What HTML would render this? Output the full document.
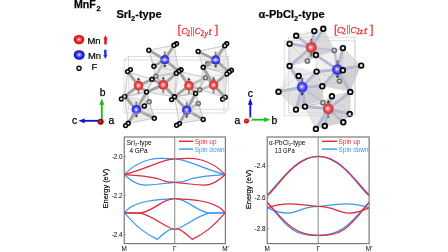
<!DOCTYPE html>
<html><head><meta charset="utf-8"><style>
html,body{margin:0;padding:0;background:#fff;}
svg{display:block;}
text{font-family:"Liberation Sans",Arial,sans-serif;}
.hb{font-weight:bold;fill:#000;stroke:#000;stroke-width:0.2px;}
.lg{font-size:9.4px;fill:#000;stroke:#000;stroke-width:0.2px;}
.lb{font-size:10.3px;fill:#000;stroke:#000;stroke-width:0.25px;}
.tk{font-size:6.4px;fill:#000;}
.ax{font-size:7.4px;fill:#000;stroke:#000;stroke-width:0.15px;}
.cl{font-family:"Liberation Serif",serif;font-style:italic;font-weight:normal;fill:#f03434;stroke:#f03434;stroke-width:0.35px;}
</style></head><body>
<svg width="448" height="252" viewBox="0 0 448 252">
<rect width="448" height="252" fill="#fff"/>
<defs>
<radialGradient id="gR" cx="0.5" cy="0.5" r="0.55" fx="0.5" fy="0.47">
<stop offset="0" stop-color="#ffffff"/><stop offset="0.18" stop-color="#ff9a9a"/><stop offset="0.5" stop-color="#f02828"/><stop offset="0.82" stop-color="#d41010"/><stop offset="1" stop-color="#8a0606"/></radialGradient>
<radialGradient id="gB" cx="0.5" cy="0.5" r="0.55" fx="0.5" fy="0.47">
<stop offset="0" stop-color="#ffffff"/><stop offset="0.18" stop-color="#a0a0ff"/><stop offset="0.5" stop-color="#3030f0"/><stop offset="0.82" stop-color="#1414d0"/><stop offset="1" stop-color="#06068a"/></radialGradient>
<radialGradient id="gD" cx="0.5" cy="0.5" r="0.55" fx="0.4" fy="0.4">
<stop offset="0" stop-color="#d04040"/><stop offset="0.6" stop-color="#a00c0c"/><stop offset="1" stop-color="#600000"/></radialGradient>
<radialGradient id="gD2" cx="0.5" cy="0.5" r="0.55" fx="0.4" fy="0.4">
<stop offset="0" stop-color="#ff6060"/><stop offset="0.6" stop-color="#e01010"/><stop offset="1" stop-color="#a00000"/></radialGradient>
<radialGradient id="gR2" cx="0.5" cy="0.5" r="0.55" fx="0.42" fy="0.5">
<stop offset="0" stop-color="#ffffff"/><stop offset="0.18" stop-color="#f2b0b0"/><stop offset="0.5" stop-color="#e05252"/><stop offset="0.85" stop-color="#d03a3a"/><stop offset="1" stop-color="#b02828"/></radialGradient>
<radialGradient id="gB2" cx="0.5" cy="0.5" r="0.55" fx="0.45" fy="0.45">
<stop offset="0" stop-color="#ffffff"/><stop offset="0.18" stop-color="#b0b0f6"/><stop offset="0.5" stop-color="#5050ec"/><stop offset="0.85" stop-color="#3434d8"/><stop offset="1" stop-color="#2020b0"/></radialGradient>
<radialGradient id="gR1" cx="0.5" cy="0.5" r="0.55" fx="0.48" fy="0.5">
<stop offset="0" stop-color="#ffffff"/><stop offset="0.22" stop-color="#f6a4a4"/><stop offset="0.55" stop-color="#ec4646"/><stop offset="0.85" stop-color="#dc2c2c"/><stop offset="1" stop-color="#b41c1c"/></radialGradient>
<radialGradient id="gB1" cx="0.5" cy="0.5" r="0.55" fx="0.48" fy="0.5">
<stop offset="0" stop-color="#ffffff"/><stop offset="0.22" stop-color="#a8a8ff"/><stop offset="0.55" stop-color="#4040f4"/><stop offset="0.85" stop-color="#2626dc"/><stop offset="1" stop-color="#1818b0"/></radialGradient>
<clipPath id="clipL"><rect x="124.25" y="137" width="101.15" height="106.6"/></clipPath>
<clipPath id="clipR"><rect x="267.2" y="137" width="101.9" height="106.6"/></clipPath>
</defs>
<rect x="128.5" y="56.5" width="100.1" height="52.7" stroke="#cfcfcf" stroke-width="0.7" fill="none"/>
<polygon points="164.8,59.7 148.8,50.2 174.0,45.3" fill="#ebebeb" fill-opacity="0.35" stroke="#cdcdcd" stroke-width="0.50" stroke-linejoin="round"/>
<polygon points="164.8,59.7 174.0,45.3 178.8,71.3" fill="#cdcdcd" fill-opacity="0.35" stroke="#cdcdcd" stroke-width="0.50" stroke-linejoin="round"/>
<polygon points="164.8,59.7 178.8,71.3 155.8,76.2" fill="#c9c9c9" fill-opacity="0.35" stroke="#cdcdcd" stroke-width="0.50" stroke-linejoin="round"/>
<polygon points="164.8,59.7 155.8,76.2 148.8,50.2" fill="#e3e3e3" fill-opacity="0.35" stroke="#cdcdcd" stroke-width="0.50" stroke-linejoin="round"/>
<polygon points="215.7,59.9 198.1,51.4 224.8,45.7" fill="#ececec" fill-opacity="0.35" stroke="#cdcdcd" stroke-width="0.50" stroke-linejoin="round"/>
<polygon points="215.7,59.9 224.8,45.7 229.2,72.0" fill="#cdcdcd" fill-opacity="0.35" stroke="#cdcdcd" stroke-width="0.50" stroke-linejoin="round"/>
<polygon points="215.7,59.9 229.2,72.0 203.2,67.3" fill="#cbcbcb" fill-opacity="0.35" stroke="#cdcdcd" stroke-width="0.50" stroke-linejoin="round"/>
<polygon points="215.7,59.9 203.2,67.3 198.1,51.4" fill="#e8e8e8" fill-opacity="0.35" stroke="#cdcdcd" stroke-width="0.50" stroke-linejoin="round"/>
<polygon points="138.5,85.6 124.7,96.5 127.6,71.6" fill="#e9e9e9" fill-opacity="0.35" stroke="#cdcdcd" stroke-width="0.50" stroke-linejoin="round"/>
<polygon points="138.5,85.6 127.6,71.6 152.0,79.3" fill="#e6e6e6" fill-opacity="0.35" stroke="#cdcdcd" stroke-width="0.50" stroke-linejoin="round"/>
<polygon points="138.5,85.6 152.0,79.3 146.6,92.0" fill="#cbcbcb" fill-opacity="0.35" stroke="#cdcdcd" stroke-width="0.50" stroke-linejoin="round"/>
<polygon points="138.5,85.6 146.6,92.0 138.5,94.6" fill="#c6c6c6" fill-opacity="0.35" stroke="#cdcdcd" stroke-width="0.50" stroke-linejoin="round"/>
<polygon points="138.5,85.6 138.5,94.6 124.7,96.5" fill="#d6d6d6" fill-opacity="0.35" stroke="#cdcdcd" stroke-width="0.50" stroke-linejoin="round"/>
<polygon points="163.3,84.9 146.6,92.0 152.0,79.3" fill="#e7e7e7" fill-opacity="0.35" stroke="#cdcdcd" stroke-width="0.50" stroke-linejoin="round"/>
<polygon points="163.3,84.9 152.0,79.3 155.8,76.2" fill="#ededed" fill-opacity="0.35" stroke="#cdcdcd" stroke-width="0.50" stroke-linejoin="round"/>
<polygon points="163.3,84.9 155.8,76.2 176.3,73.3" fill="#e3e3e3" fill-opacity="0.35" stroke="#cdcdcd" stroke-width="0.50" stroke-linejoin="round"/>
<polygon points="163.3,84.9 176.3,73.3 174.5,96.8" fill="#cbcbcb" fill-opacity="0.35" stroke="#cdcdcd" stroke-width="0.50" stroke-linejoin="round"/>
<polygon points="163.3,84.9 174.5,96.8 146.6,92.0" fill="#d0d0d0" fill-opacity="0.35" stroke="#cdcdcd" stroke-width="0.50" stroke-linejoin="round"/>
<polygon points="188.9,85.6 174.5,96.8 178.8,71.3" fill="#e9e9e9" fill-opacity="0.35" stroke="#cdcdcd" stroke-width="0.50" stroke-linejoin="round"/>
<polygon points="188.9,85.6 178.8,71.3 205.5,77.7" fill="#e3e3e3" fill-opacity="0.35" stroke="#cdcdcd" stroke-width="0.50" stroke-linejoin="round"/>
<polygon points="188.9,85.6 205.5,77.7 199.8,89.8" fill="#cdcdcd" fill-opacity="0.35" stroke="#cdcdcd" stroke-width="0.50" stroke-linejoin="round"/>
<polygon points="188.9,85.6 199.8,89.8 195.6,93.5" fill="#c6c6c6" fill-opacity="0.35" stroke="#cdcdcd" stroke-width="0.50" stroke-linejoin="round"/>
<polygon points="188.9,85.6 195.6,93.5 188.9,94.6" fill="#c7c7c7" fill-opacity="0.35" stroke="#cdcdcd" stroke-width="0.50" stroke-linejoin="round"/>
<polygon points="188.9,85.6 188.9,94.6 174.5,96.8" fill="#d6d6d6" fill-opacity="0.35" stroke="#cdcdcd" stroke-width="0.50" stroke-linejoin="round"/>
<polygon points="213.6,85.0 199.8,89.8 203.2,67.3" fill="#ededed" fill-opacity="0.35" stroke="#cdcdcd" stroke-width="0.50" stroke-linejoin="round"/>
<polygon points="213.6,85.0 203.2,67.3 226.8,73.9" fill="#e6e6e6" fill-opacity="0.35" stroke="#cdcdcd" stroke-width="0.50" stroke-linejoin="round"/>
<polygon points="213.6,85.0 226.8,73.9 225.2,97.2" fill="#cbcbcb" fill-opacity="0.35" stroke="#cdcdcd" stroke-width="0.50" stroke-linejoin="round"/>
<polygon points="213.6,85.0 225.2,97.2 213.6,94.0" fill="#c6c6c6" fill-opacity="0.35" stroke="#cdcdcd" stroke-width="0.50" stroke-linejoin="round"/>
<polygon points="213.6,85.0 213.6,94.0 199.8,89.8" fill="#dadada" fill-opacity="0.35" stroke="#cdcdcd" stroke-width="0.50" stroke-linejoin="round"/>
<polygon points="136.3,109.6 124.7,96.5 146.6,92.0" fill="#e8e8e8" fill-opacity="0.35" stroke="#cdcdcd" stroke-width="0.50" stroke-linejoin="round"/>
<polygon points="136.3,109.6 146.6,92.0 154.3,118.3" fill="#d0d0d0" fill-opacity="0.35" stroke="#cdcdcd" stroke-width="0.50" stroke-linejoin="round"/>
<polygon points="136.3,109.6 154.3,118.3 128.2,123.3" fill="#c7c7c7" fill-opacity="0.35" stroke="#cdcdcd" stroke-width="0.50" stroke-linejoin="round"/>
<polygon points="136.3,109.6 128.2,123.3 124.7,96.5" fill="#e7e7e7" fill-opacity="0.35" stroke="#cdcdcd" stroke-width="0.50" stroke-linejoin="round"/>
<polygon points="186.7,110.1 174.5,96.8 195.6,93.5" fill="#e9e9e9" fill-opacity="0.35" stroke="#cdcdcd" stroke-width="0.50" stroke-linejoin="round"/>
<polygon points="186.7,110.1 195.6,93.5 203.2,119.4" fill="#d0d0d0" fill-opacity="0.35" stroke="#cdcdcd" stroke-width="0.50" stroke-linejoin="round"/>
<polygon points="186.7,110.1 203.2,119.4 179.4,123.6" fill="#c7c7c7" fill-opacity="0.35" stroke="#cdcdcd" stroke-width="0.50" stroke-linejoin="round"/>
<polygon points="186.7,110.1 179.4,123.6 174.5,96.8" fill="#e7e7e7" fill-opacity="0.35" stroke="#cdcdcd" stroke-width="0.50" stroke-linejoin="round"/>
<g stroke="#bdbdbd" stroke-width="0.6">
<line x1="148.8" y1="50.2" x2="174.0" y2="45.3"/>
<line x1="148.8" y1="50.2" x2="153.9" y2="66.3"/>
<line x1="148.8" y1="50.2" x2="178.8" y2="71.3"/>
<line x1="148.8" y1="50.2" x2="155.8" y2="76.2"/>
<line x1="174.0" y1="45.3" x2="153.9" y2="66.3"/>
<line x1="174.0" y1="45.3" x2="178.8" y2="71.3"/>
<line x1="174.0" y1="45.3" x2="155.8" y2="76.2"/>
<line x1="153.9" y1="66.3" x2="178.8" y2="71.3"/>
<line x1="153.9" y1="66.3" x2="155.8" y2="76.2"/>
<line x1="178.8" y1="71.3" x2="155.8" y2="76.2"/>
<line x1="198.1" y1="51.4" x2="224.8" y2="45.7"/>
<line x1="198.1" y1="51.4" x2="203.2" y2="67.3"/>
<line x1="198.1" y1="51.4" x2="207.6" y2="63.8"/>
<line x1="198.1" y1="51.4" x2="229.2" y2="72.0"/>
<line x1="224.8" y1="45.7" x2="203.2" y2="67.3"/>
<line x1="224.8" y1="45.7" x2="207.6" y2="63.8"/>
<line x1="224.8" y1="45.7" x2="229.2" y2="72.0"/>
<line x1="203.2" y1="67.3" x2="207.6" y2="63.8"/>
<line x1="203.2" y1="67.3" x2="229.2" y2="72.0"/>
<line x1="207.6" y1="63.8" x2="229.2" y2="72.0"/>
<line x1="127.6" y1="71.6" x2="152.0" y2="79.3"/>
<line x1="127.6" y1="71.6" x2="146.6" y2="92.0"/>
<line x1="127.6" y1="71.6" x2="124.7" y2="96.5"/>
<line x1="152.0" y1="79.3" x2="146.6" y2="92.0"/>
<line x1="152.0" y1="79.3" x2="124.7" y2="96.5"/>
<line x1="146.6" y1="92.0" x2="124.7" y2="96.5"/>
<line x1="152.0" y1="79.3" x2="155.8" y2="76.2"/>
<line x1="152.0" y1="79.3" x2="176.3" y2="73.3"/>
<line x1="152.0" y1="79.3" x2="174.5" y2="96.8"/>
<line x1="152.0" y1="79.3" x2="146.6" y2="92.0"/>
<line x1="155.8" y1="76.2" x2="176.3" y2="73.3"/>
<line x1="155.8" y1="76.2" x2="174.5" y2="96.8"/>
<line x1="155.8" y1="76.2" x2="146.6" y2="92.0"/>
<line x1="176.3" y1="73.3" x2="174.5" y2="96.8"/>
<line x1="176.3" y1="73.3" x2="146.6" y2="92.0"/>
<line x1="174.5" y1="96.8" x2="146.6" y2="92.0"/>
<line x1="178.8" y1="71.3" x2="174.5" y2="96.8"/>
<line x1="178.8" y1="71.3" x2="195.6" y2="93.5"/>
<line x1="178.8" y1="71.3" x2="205.5" y2="77.7"/>
<line x1="178.8" y1="71.3" x2="199.8" y2="89.8"/>
<line x1="174.5" y1="96.8" x2="195.6" y2="93.5"/>
<line x1="174.5" y1="96.8" x2="205.5" y2="77.7"/>
<line x1="174.5" y1="96.8" x2="199.8" y2="89.8"/>
<line x1="195.6" y1="93.5" x2="205.5" y2="77.7"/>
<line x1="195.6" y1="93.5" x2="199.8" y2="89.8"/>
<line x1="205.5" y1="77.7" x2="199.8" y2="89.8"/>
<line x1="205.5" y1="77.7" x2="226.8" y2="73.9"/>
<line x1="205.5" y1="77.7" x2="225.2" y2="97.2"/>
<line x1="205.5" y1="77.7" x2="199.8" y2="89.8"/>
<line x1="205.5" y1="77.7" x2="203.2" y2="67.3"/>
<line x1="226.8" y1="73.9" x2="225.2" y2="97.2"/>
<line x1="226.8" y1="73.9" x2="199.8" y2="89.8"/>
<line x1="226.8" y1="73.9" x2="203.2" y2="67.3"/>
<line x1="225.2" y1="97.2" x2="199.8" y2="89.8"/>
<line x1="225.2" y1="97.2" x2="203.2" y2="67.3"/>
<line x1="199.8" y1="89.8" x2="203.2" y2="67.3"/>
<line x1="124.7" y1="96.5" x2="146.6" y2="92.0"/>
<line x1="124.7" y1="96.5" x2="144.4" y2="105.9"/>
<line x1="124.7" y1="96.5" x2="149.2" y2="101.8"/>
<line x1="124.7" y1="96.5" x2="154.3" y2="118.3"/>
<line x1="124.7" y1="96.5" x2="128.2" y2="123.3"/>
<line x1="146.6" y1="92.0" x2="144.4" y2="105.9"/>
<line x1="146.6" y1="92.0" x2="149.2" y2="101.8"/>
<line x1="146.6" y1="92.0" x2="154.3" y2="118.3"/>
<line x1="146.6" y1="92.0" x2="128.2" y2="123.3"/>
<line x1="144.4" y1="105.9" x2="149.2" y2="101.8"/>
<line x1="144.4" y1="105.9" x2="154.3" y2="118.3"/>
<line x1="144.4" y1="105.9" x2="128.2" y2="123.3"/>
<line x1="149.2" y1="101.8" x2="154.3" y2="118.3"/>
<line x1="149.2" y1="101.8" x2="128.2" y2="123.3"/>
<line x1="154.3" y1="118.3" x2="128.2" y2="123.3"/>
<line x1="174.5" y1="96.8" x2="195.6" y2="93.5"/>
<line x1="174.5" y1="96.8" x2="198.4" y2="103.4"/>
<line x1="174.5" y1="96.8" x2="203.2" y2="119.4"/>
<line x1="174.5" y1="96.8" x2="179.4" y2="123.6"/>
<line x1="195.6" y1="93.5" x2="198.4" y2="103.4"/>
<line x1="195.6" y1="93.5" x2="203.2" y2="119.4"/>
<line x1="195.6" y1="93.5" x2="179.4" y2="123.6"/>
<line x1="198.4" y1="103.4" x2="203.2" y2="119.4"/>
<line x1="198.4" y1="103.4" x2="179.4" y2="123.6"/>
<line x1="203.2" y1="119.4" x2="179.4" y2="123.6"/>
</g>
<line x1="164.80" y1="59.70" x2="155.80" y2="76.20" stroke="#bcbcbc" stroke-width="2.30"/>
<line x1="215.70" y1="59.90" x2="207.60" y2="63.80" stroke="#bcbcbc" stroke-width="2.30"/>
<line x1="163.30" y1="84.90" x2="155.80" y2="76.20" stroke="#bcbcbc" stroke-width="2.30"/>
<line x1="188.90" y1="85.60" x2="205.50" y2="77.70" stroke="#bcbcbc" stroke-width="2.30"/>
<line x1="188.90" y1="85.60" x2="199.80" y2="89.80" stroke="#bcbcbc" stroke-width="2.30"/>
<line x1="213.60" y1="85.00" x2="205.50" y2="77.70" stroke="#bcbcbc" stroke-width="2.30"/>
<line x1="213.60" y1="85.00" x2="199.80" y2="89.80" stroke="#bcbcbc" stroke-width="2.30"/>
<line x1="136.30" y1="109.60" x2="149.20" y2="101.80" stroke="#bcbcbc" stroke-width="2.30"/>
<line x1="186.70" y1="110.10" x2="198.40" y2="103.40" stroke="#bcbcbc" stroke-width="2.30"/>
<circle cx="207.60" cy="63.80" r="1.95" fill="#d4d4d4" stroke="#6e6e6e" stroke-width="1.55"/>
<circle cx="155.80" cy="76.20" r="1.95" fill="#d4d4d4" stroke="#6e6e6e" stroke-width="1.55"/>
<circle cx="205.50" cy="77.70" r="1.95" fill="#d4d4d4" stroke="#6e6e6e" stroke-width="1.55"/>
<circle cx="199.80" cy="89.80" r="1.95" fill="#d4d4d4" stroke="#6e6e6e" stroke-width="1.55"/>
<circle cx="149.20" cy="101.80" r="1.95" fill="#d4d4d4" stroke="#6e6e6e" stroke-width="1.55"/>
<circle cx="198.40" cy="103.40" r="1.95" fill="#d4d4d4" stroke="#6e6e6e" stroke-width="1.55"/>
<line x1="164.80" y1="59.70" x2="148.80" y2="50.20" stroke="#9c9c9c" stroke-width="2.70"/><line x1="164.80" y1="59.70" x2="148.80" y2="50.20" stroke="#a8a8a8" stroke-width="1.08"/>
<line x1="164.80" y1="59.70" x2="174.00" y2="45.30" stroke="#9c9c9c" stroke-width="2.70"/><line x1="164.80" y1="59.70" x2="174.00" y2="45.30" stroke="#a8a8a8" stroke-width="1.08"/>
<line x1="164.80" y1="59.70" x2="153.90" y2="66.30" stroke="#9c9c9c" stroke-width="2.70"/><line x1="164.80" y1="59.70" x2="153.90" y2="66.30" stroke="#a8a8a8" stroke-width="1.08"/>
<line x1="164.80" y1="59.70" x2="178.80" y2="71.30" stroke="#9c9c9c" stroke-width="2.70"/><line x1="164.80" y1="59.70" x2="178.80" y2="71.30" stroke="#a8a8a8" stroke-width="1.08"/>
<line x1="215.70" y1="59.90" x2="198.10" y2="51.40" stroke="#9c9c9c" stroke-width="2.70"/><line x1="215.70" y1="59.90" x2="198.10" y2="51.40" stroke="#a8a8a8" stroke-width="1.08"/>
<line x1="215.70" y1="59.90" x2="224.80" y2="45.70" stroke="#9c9c9c" stroke-width="2.70"/><line x1="215.70" y1="59.90" x2="224.80" y2="45.70" stroke="#a8a8a8" stroke-width="1.08"/>
<line x1="215.70" y1="59.90" x2="203.20" y2="67.30" stroke="#9c9c9c" stroke-width="2.70"/><line x1="215.70" y1="59.90" x2="203.20" y2="67.30" stroke="#a8a8a8" stroke-width="1.08"/>
<line x1="215.70" y1="59.90" x2="229.20" y2="72.00" stroke="#9c9c9c" stroke-width="2.70"/><line x1="215.70" y1="59.90" x2="229.20" y2="72.00" stroke="#a8a8a8" stroke-width="1.08"/>
<line x1="138.50" y1="85.60" x2="127.60" y2="71.60" stroke="#9c9c9c" stroke-width="2.70"/><line x1="138.50" y1="85.60" x2="127.60" y2="71.60" stroke="#a8a8a8" stroke-width="1.08"/>
<line x1="138.50" y1="85.60" x2="152.00" y2="79.30" stroke="#9c9c9c" stroke-width="2.70"/><line x1="138.50" y1="85.60" x2="152.00" y2="79.30" stroke="#a8a8a8" stroke-width="1.08"/>
<line x1="138.50" y1="85.60" x2="146.60" y2="92.00" stroke="#9c9c9c" stroke-width="2.70"/><line x1="138.50" y1="85.60" x2="146.60" y2="92.00" stroke="#a8a8a8" stroke-width="1.08"/>
<line x1="138.50" y1="85.60" x2="124.70" y2="96.50" stroke="#9c9c9c" stroke-width="2.70"/><line x1="138.50" y1="85.60" x2="124.70" y2="96.50" stroke="#a8a8a8" stroke-width="1.08"/>
<line x1="163.30" y1="84.90" x2="152.00" y2="79.30" stroke="#9c9c9c" stroke-width="2.70"/><line x1="163.30" y1="84.90" x2="152.00" y2="79.30" stroke="#a8a8a8" stroke-width="1.08"/>
<line x1="163.30" y1="84.90" x2="176.30" y2="73.30" stroke="#9c9c9c" stroke-width="2.70"/><line x1="163.30" y1="84.90" x2="176.30" y2="73.30" stroke="#a8a8a8" stroke-width="1.08"/>
<line x1="163.30" y1="84.90" x2="174.50" y2="96.80" stroke="#9c9c9c" stroke-width="2.70"/><line x1="163.30" y1="84.90" x2="174.50" y2="96.80" stroke="#a8a8a8" stroke-width="1.08"/>
<line x1="163.30" y1="84.90" x2="146.60" y2="92.00" stroke="#9c9c9c" stroke-width="2.70"/><line x1="163.30" y1="84.90" x2="146.60" y2="92.00" stroke="#a8a8a8" stroke-width="1.08"/>
<line x1="188.90" y1="85.60" x2="178.80" y2="71.30" stroke="#9c9c9c" stroke-width="2.70"/><line x1="188.90" y1="85.60" x2="178.80" y2="71.30" stroke="#a8a8a8" stroke-width="1.08"/>
<line x1="188.90" y1="85.60" x2="174.50" y2="96.80" stroke="#9c9c9c" stroke-width="2.70"/><line x1="188.90" y1="85.60" x2="174.50" y2="96.80" stroke="#a8a8a8" stroke-width="1.08"/>
<line x1="188.90" y1="85.60" x2="195.60" y2="93.50" stroke="#9c9c9c" stroke-width="2.70"/><line x1="188.90" y1="85.60" x2="195.60" y2="93.50" stroke="#a8a8a8" stroke-width="1.08"/>
<line x1="213.60" y1="85.00" x2="226.80" y2="73.90" stroke="#9c9c9c" stroke-width="2.70"/><line x1="213.60" y1="85.00" x2="226.80" y2="73.90" stroke="#a8a8a8" stroke-width="1.08"/>
<line x1="213.60" y1="85.00" x2="225.20" y2="97.20" stroke="#9c9c9c" stroke-width="2.70"/><line x1="213.60" y1="85.00" x2="225.20" y2="97.20" stroke="#a8a8a8" stroke-width="1.08"/>
<line x1="213.60" y1="85.00" x2="203.20" y2="67.30" stroke="#9c9c9c" stroke-width="2.70"/><line x1="213.60" y1="85.00" x2="203.20" y2="67.30" stroke="#a8a8a8" stroke-width="1.08"/>
<line x1="136.30" y1="109.60" x2="124.70" y2="96.50" stroke="#9c9c9c" stroke-width="2.70"/><line x1="136.30" y1="109.60" x2="124.70" y2="96.50" stroke="#a8a8a8" stroke-width="1.08"/>
<line x1="136.30" y1="109.60" x2="146.60" y2="92.00" stroke="#9c9c9c" stroke-width="2.70"/><line x1="136.30" y1="109.60" x2="146.60" y2="92.00" stroke="#a8a8a8" stroke-width="1.08"/>
<line x1="136.30" y1="109.60" x2="144.40" y2="105.90" stroke="#9c9c9c" stroke-width="2.70"/><line x1="136.30" y1="109.60" x2="144.40" y2="105.90" stroke="#a8a8a8" stroke-width="1.08"/>
<line x1="136.30" y1="109.60" x2="154.30" y2="118.30" stroke="#9c9c9c" stroke-width="2.70"/><line x1="136.30" y1="109.60" x2="154.30" y2="118.30" stroke="#a8a8a8" stroke-width="1.08"/>
<line x1="136.30" y1="109.60" x2="128.20" y2="123.30" stroke="#9c9c9c" stroke-width="2.70"/><line x1="136.30" y1="109.60" x2="128.20" y2="123.30" stroke="#a8a8a8" stroke-width="1.08"/>
<line x1="186.70" y1="110.10" x2="174.50" y2="96.80" stroke="#9c9c9c" stroke-width="2.70"/><line x1="186.70" y1="110.10" x2="174.50" y2="96.80" stroke="#a8a8a8" stroke-width="1.08"/>
<line x1="186.70" y1="110.10" x2="195.60" y2="93.50" stroke="#9c9c9c" stroke-width="2.70"/><line x1="186.70" y1="110.10" x2="195.60" y2="93.50" stroke="#a8a8a8" stroke-width="1.08"/>
<line x1="186.70" y1="110.10" x2="203.20" y2="119.40" stroke="#9c9c9c" stroke-width="2.70"/><line x1="186.70" y1="110.10" x2="203.20" y2="119.40" stroke="#a8a8a8" stroke-width="1.08"/>
<line x1="186.70" y1="110.10" x2="179.40" y2="123.60" stroke="#9c9c9c" stroke-width="2.70"/><line x1="186.70" y1="110.10" x2="179.40" y2="123.60" stroke="#a8a8a8" stroke-width="1.08"/>
<line x1="164.80" y1="51.40" x2="164.80" y2="65.40" stroke="#858585" stroke-width="1.80"/>
<path d="M164.80,68.00 L166.80,65.00 L162.80,65.00 Z" fill="#2a2a2a" stroke="#fff" stroke-width="0.35"/>
<circle cx="164.80" cy="59.70" r="4.60" fill="url(#gB1)"/>
<line x1="215.70" y1="51.60" x2="215.70" y2="65.60" stroke="#858585" stroke-width="1.80"/>
<path d="M215.70,68.20 L217.70,65.20 L213.70,65.20 Z" fill="#2a2a2a" stroke="#fff" stroke-width="0.35"/>
<circle cx="215.70" cy="59.90" r="4.60" fill="url(#gB1)"/>
<line x1="138.50" y1="93.90" x2="138.50" y2="79.90" stroke="#858585" stroke-width="1.80"/>
<path d="M138.50,77.30 L140.50,80.30 L136.50,80.30 Z" fill="#2a2a2a" stroke="#fff" stroke-width="0.35"/>
<circle cx="138.50" cy="85.60" r="4.75" fill="url(#gR1)"/>
<line x1="163.30" y1="93.20" x2="163.30" y2="79.20" stroke="#858585" stroke-width="1.80"/>
<path d="M163.30,76.60 L165.30,79.60 L161.30,79.60 Z" fill="#2a2a2a" stroke="#fff" stroke-width="0.35"/>
<circle cx="163.30" cy="84.90" r="4.90" fill="url(#gR1)"/>
<line x1="188.90" y1="93.90" x2="188.90" y2="79.90" stroke="#858585" stroke-width="1.80"/>
<path d="M188.90,77.30 L190.90,80.30 L186.90,80.30 Z" fill="#2a2a2a" stroke="#fff" stroke-width="0.35"/>
<circle cx="188.90" cy="85.60" r="4.75" fill="url(#gR1)"/>
<line x1="213.60" y1="93.30" x2="213.60" y2="79.30" stroke="#858585" stroke-width="1.80"/>
<path d="M213.60,76.70 L215.60,79.70 L211.60,79.70 Z" fill="#2a2a2a" stroke="#fff" stroke-width="0.35"/>
<circle cx="213.60" cy="85.00" r="4.75" fill="url(#gR1)"/>
<line x1="136.30" y1="101.30" x2="136.30" y2="115.30" stroke="#858585" stroke-width="1.80"/>
<path d="M136.30,117.90 L138.30,114.90 L134.30,114.90 Z" fill="#2a2a2a" stroke="#fff" stroke-width="0.35"/>
<circle cx="136.30" cy="109.60" r="4.70" fill="url(#gB1)"/>
<line x1="186.70" y1="101.80" x2="186.70" y2="115.80" stroke="#858585" stroke-width="1.80"/>
<path d="M186.70,118.40 L188.70,115.40 L184.70,115.40 Z" fill="#2a2a2a" stroke="#fff" stroke-width="0.35"/>
<circle cx="186.70" cy="110.10" r="4.70" fill="url(#gB1)"/>
<circle cx="148.80" cy="50.20" r="1.95" fill="#e2e2e2" stroke="#050505" stroke-width="1.55"/>
<circle cx="176.50" cy="43.80" r="1.95" fill="#e2e2e2" stroke="#050505" stroke-width="1.55"/>
<circle cx="174.00" cy="45.30" r="1.95" fill="#e2e2e2" stroke="#050505" stroke-width="1.55"/>
<circle cx="198.10" cy="51.40" r="1.95" fill="#e2e2e2" stroke="#050505" stroke-width="1.55"/>
<circle cx="226.70" cy="43.80" r="1.95" fill="#e2e2e2" stroke="#050505" stroke-width="1.55"/>
<circle cx="224.80" cy="45.70" r="1.95" fill="#e2e2e2" stroke="#050505" stroke-width="1.55"/>
<circle cx="153.90" cy="66.30" r="1.95" fill="#e2e2e2" stroke="#050505" stroke-width="1.55"/>
<circle cx="130.40" cy="69.60" r="1.95" fill="#e2e2e2" stroke="#050505" stroke-width="1.55"/>
<circle cx="127.60" cy="71.60" r="1.95" fill="#e2e2e2" stroke="#050505" stroke-width="1.55"/>
<circle cx="181.00" cy="69.80" r="1.95" fill="#e2e2e2" stroke="#050505" stroke-width="1.55"/>
<circle cx="178.80" cy="71.30" r="1.95" fill="#e2e2e2" stroke="#050505" stroke-width="1.55"/>
<circle cx="176.30" cy="73.30" r="1.95" fill="#e2e2e2" stroke="#050505" stroke-width="1.55"/>
<circle cx="203.20" cy="67.30" r="1.95" fill="#e2e2e2" stroke="#050505" stroke-width="1.55"/>
<circle cx="231.40" cy="70.30" r="1.95" fill="#e2e2e2" stroke="#050505" stroke-width="1.55"/>
<circle cx="229.20" cy="72.00" r="1.95" fill="#e2e2e2" stroke="#050505" stroke-width="1.55"/>
<circle cx="226.80" cy="73.90" r="1.95" fill="#e2e2e2" stroke="#050505" stroke-width="1.55"/>
<circle cx="152.00" cy="79.30" r="1.95" fill="#e2e2e2" stroke="#050505" stroke-width="1.55"/>
<circle cx="146.60" cy="92.00" r="1.95" fill="#e2e2e2" stroke="#050505" stroke-width="1.55"/>
<circle cx="195.60" cy="93.50" r="1.95" fill="#e2e2e2" stroke="#050505" stroke-width="1.55"/>
<circle cx="124.70" cy="96.50" r="1.95" fill="#e2e2e2" stroke="#050505" stroke-width="1.55"/>
<circle cx="121.40" cy="98.90" r="1.95" fill="#e2e2e2" stroke="#050505" stroke-width="1.55"/>
<circle cx="144.40" cy="105.90" r="1.95" fill="#e2e2e2" stroke="#050505" stroke-width="1.55"/>
<circle cx="174.50" cy="96.80" r="1.95" fill="#e2e2e2" stroke="#050505" stroke-width="1.55"/>
<circle cx="171.60" cy="99.60" r="1.95" fill="#e2e2e2" stroke="#050505" stroke-width="1.55"/>
<circle cx="225.20" cy="97.20" r="1.95" fill="#e2e2e2" stroke="#050505" stroke-width="1.55"/>
<circle cx="222.60" cy="99.30" r="1.95" fill="#e2e2e2" stroke="#050505" stroke-width="1.55"/>
<circle cx="154.30" cy="118.30" r="1.95" fill="#e2e2e2" stroke="#050505" stroke-width="1.55"/>
<circle cx="128.20" cy="123.30" r="1.95" fill="#e2e2e2" stroke="#050505" stroke-width="1.55"/>
<circle cx="125.60" cy="125.60" r="1.95" fill="#e2e2e2" stroke="#050505" stroke-width="1.55"/>
<circle cx="203.20" cy="119.40" r="1.95" fill="#e2e2e2" stroke="#050505" stroke-width="1.55"/>
<circle cx="179.40" cy="123.60" r="1.95" fill="#e2e2e2" stroke="#050505" stroke-width="1.55"/>
<circle cx="176.60" cy="125.30" r="1.95" fill="#e2e2e2" stroke="#050505" stroke-width="1.55"/>
<rect x="124" y="60" width="100" height="53" stroke="#cfcfcf" stroke-width="0.7" fill="none"/>
<line x1="124" y1="60" x2="128.5" y2="56.5" stroke="#cfcfcf" stroke-width="0.7" fill="none"/>
<line x1="224" y1="60" x2="228.6" y2="56.5" stroke="#cfcfcf" stroke-width="0.7" fill="none"/>
<line x1="124" y1="113" x2="128.5" y2="109.2" stroke="#cfcfcf" stroke-width="0.7" fill="none"/>
<line x1="224" y1="113" x2="228.6" y2="109.2" stroke="#cfcfcf" stroke-width="0.7" fill="none"/>
<rect x="288.5" y="37.2" width="66.5" height="75.8" stroke="#cfcfcf" stroke-width="0.7" fill="none"/>
<polygon points="311.3,47.4 289.6,43.7 296.2,35.7" fill="#e3e3e3" fill-opacity="0.55" stroke="#f2f2f2" stroke-width="0.50" stroke-linejoin="round"/>
<polygon points="311.3,47.4 296.2,35.7 323.3,28.8" fill="#dfdfdf" fill-opacity="0.55" stroke="#f2f2f2" stroke-width="0.50" stroke-linejoin="round"/>
<polygon points="311.3,47.4 323.3,28.8 334.3,50.4" fill="#bdbdbd" fill-opacity="0.55" stroke="#f2f2f2" stroke-width="0.50" stroke-linejoin="round"/>
<polygon points="311.3,47.4 334.3,50.4 307.4,61.0" fill="#aaaaaa" fill-opacity="0.55" stroke="#f2f2f2" stroke-width="0.50" stroke-linejoin="round"/>
<polygon points="311.3,47.4 307.4,61.0 289.6,66.0" fill="#c4c4c4" fill-opacity="0.55" stroke="#f2f2f2" stroke-width="0.50" stroke-linejoin="round"/>
<polygon points="311.3,47.4 289.6,66.0 289.6,43.7" fill="#d5d5d5" fill-opacity="0.55" stroke="#f2f2f2" stroke-width="0.50" stroke-linejoin="round"/>
<polygon points="337.5,69.6 315.9,55.0 342.9,48.1" fill="#e4e4e4" fill-opacity="0.55" stroke="#f2f2f2" stroke-width="0.50" stroke-linejoin="round"/>
<polygon points="337.5,69.6 342.9,48.1 361.2,65.6" fill="#c6c6c6" fill-opacity="0.55" stroke="#f2f2f2" stroke-width="0.50" stroke-linejoin="round"/>
<polygon points="337.5,69.6 361.2,65.6 350.3,91.9" fill="#ababab" fill-opacity="0.55" stroke="#f2f2f2" stroke-width="0.50" stroke-linejoin="round"/>
<polygon points="337.5,69.6 350.3,91.9 322.3,86.2" fill="#b4b4b4" fill-opacity="0.55" stroke="#f2f2f2" stroke-width="0.50" stroke-linejoin="round"/>
<polygon points="337.5,69.6 322.3,86.2 316.6,71.6" fill="#d1d1d1" fill-opacity="0.55" stroke="#f2f2f2" stroke-width="0.50" stroke-linejoin="round"/>
<polygon points="337.5,69.6 316.6,71.6 315.9,55.0" fill="#e2e2e2" fill-opacity="0.55" stroke="#f2f2f2" stroke-width="0.50" stroke-linejoin="round"/>
<polygon points="302.2,87.1 278.5,91.7 289.6,66.0" fill="#e4e4e4" fill-opacity="0.55" stroke="#f2f2f2" stroke-width="0.50" stroke-linejoin="round"/>
<polygon points="302.2,87.1 289.6,66.0 316.6,71.6" fill="#dcdcdc" fill-opacity="0.55" stroke="#f2f2f2" stroke-width="0.50" stroke-linejoin="round"/>
<polygon points="302.2,87.1 316.6,71.6 322.3,86.2" fill="#bdbdbd" fill-opacity="0.55" stroke="#f2f2f2" stroke-width="0.50" stroke-linejoin="round"/>
<polygon points="302.2,87.1 322.3,86.2 323.0,102.7" fill="#acacac" fill-opacity="0.55" stroke="#f2f2f2" stroke-width="0.50" stroke-linejoin="round"/>
<polygon points="302.2,87.1 323.0,102.7 296.0,109.6" fill="#acacac" fill-opacity="0.55" stroke="#f2f2f2" stroke-width="0.50" stroke-linejoin="round"/>
<polygon points="302.2,87.1 296.0,109.6 278.5,91.7" fill="#c9c9c9" fill-opacity="0.55" stroke="#f2f2f2" stroke-width="0.50" stroke-linejoin="round"/>
<polygon points="328.3,108.7 305.0,106.6 331.9,96.3" fill="#e5e5e5" fill-opacity="0.55" stroke="#f2f2f2" stroke-width="0.50" stroke-linejoin="round"/>
<polygon points="328.3,108.7 331.9,96.3 350.3,91.9" fill="#c9c9c9" fill-opacity="0.55" stroke="#f2f2f2" stroke-width="0.50" stroke-linejoin="round"/>
<polygon points="328.3,108.7 350.3,91.9 349.7,114.0" fill="#b8b8b8" fill-opacity="0.55" stroke="#f2f2f2" stroke-width="0.50" stroke-linejoin="round"/>
<polygon points="328.3,108.7 349.7,114.0 343.3,122.2" fill="#ababab" fill-opacity="0.55" stroke="#f2f2f2" stroke-width="0.50" stroke-linejoin="round"/>
<polygon points="328.3,108.7 343.3,122.2 315.9,128.9" fill="#b1b1b1" fill-opacity="0.55" stroke="#f2f2f2" stroke-width="0.50" stroke-linejoin="round"/>
<polygon points="328.3,108.7 315.9,128.9 305.0,106.6" fill="#d1d1d1" fill-opacity="0.55" stroke="#f2f2f2" stroke-width="0.50" stroke-linejoin="round"/>
<g stroke="#c2c2c2" stroke-width="0.6">
<line x1="296.2" y1="35.7" x2="289.6" y2="43.7"/>
<line x1="296.2" y1="35.7" x2="314.3" y2="31.1"/>
<line x1="289.6" y1="43.7" x2="289.6" y2="66.0"/>
<line x1="289.6" y1="43.7" x2="307.4" y2="61.0"/>
<line x1="314.3" y1="31.1" x2="323.3" y2="28.8"/>
<line x1="314.3" y1="31.1" x2="315.9" y2="55.0"/>
<line x1="323.3" y1="28.8" x2="334.3" y2="50.4"/>
<line x1="315.9" y1="55.0" x2="334.3" y2="50.4"/>
<line x1="315.9" y1="55.0" x2="307.4" y2="61.0"/>
<line x1="289.6" y1="66.0" x2="307.4" y2="61.0"/>
<line x1="334.3" y1="50.4" x2="342.9" y2="48.1"/>
<line x1="334.3" y1="50.4" x2="315.9" y2="55.0"/>
<line x1="334.3" y1="50.4" x2="342.9" y2="70.2"/>
<line x1="342.9" y1="48.1" x2="361.2" y2="65.6"/>
<line x1="342.9" y1="48.1" x2="342.9" y2="70.2"/>
<line x1="361.2" y1="65.6" x2="342.9" y2="70.2"/>
<line x1="316.6" y1="71.6" x2="315.9" y2="55.0"/>
<line x1="316.6" y1="71.6" x2="322.3" y2="86.2"/>
<line x1="316.6" y1="71.6" x2="339.5" y2="81.1"/>
<line x1="322.3" y1="86.2" x2="339.5" y2="81.1"/>
<line x1="350.3" y1="91.9" x2="339.5" y2="81.1"/>
<line x1="350.3" y1="91.9" x2="342.9" y2="70.2"/>
<line x1="339.5" y1="81.1" x2="342.9" y2="70.2"/>
<line x1="298.6" y1="75.9" x2="316.6" y2="71.6"/>
<line x1="298.6" y1="75.9" x2="278.5" y2="91.7"/>
<line x1="298.6" y1="75.9" x2="322.3" y2="86.2"/>
<line x1="298.6" y1="75.9" x2="289.6" y2="66.0"/>
<line x1="316.6" y1="71.6" x2="322.3" y2="86.2"/>
<line x1="278.5" y1="91.7" x2="296.0" y2="109.6"/>
<line x1="322.3" y1="86.2" x2="323.0" y2="102.7"/>
<line x1="296.0" y1="109.6" x2="305.0" y2="106.6"/>
<line x1="305.0" y1="106.6" x2="323.0" y2="102.7"/>
<line x1="331.9" y1="96.3" x2="349.7" y2="114.0"/>
<line x1="331.9" y1="96.3" x2="323.0" y2="102.7"/>
<line x1="331.9" y1="96.3" x2="350.3" y2="91.9"/>
<line x1="349.7" y1="114.0" x2="343.3" y2="122.2"/>
<line x1="349.7" y1="114.0" x2="350.3" y2="91.9"/>
<line x1="343.3" y1="122.2" x2="324.8" y2="126.0"/>
<line x1="324.8" y1="126.0" x2="315.9" y2="128.9"/>
<line x1="324.8" y1="126.0" x2="323.0" y2="102.7"/>
<line x1="315.9" y1="128.9" x2="305.0" y2="106.6"/>
<line x1="323.0" y1="102.7" x2="305.0" y2="106.6"/>
</g>
<line x1="311.30" y1="47.40" x2="334.30" y2="50.40" stroke="#c0c2d8" stroke-width="2.30"/>
<line x1="311.30" y1="47.40" x2="307.40" y2="61.00" stroke="#c0c2d8" stroke-width="2.30"/>
<line x1="337.50" y1="69.60" x2="334.30" y2="50.40" stroke="#c0c2d8" stroke-width="2.30"/>
<line x1="337.50" y1="69.60" x2="339.50" y2="81.10" stroke="#c0c2d8" stroke-width="2.30"/>
<line x1="302.20" y1="87.10" x2="323.00" y2="102.70" stroke="#c0c2d8" stroke-width="2.30"/>
<line x1="328.30" y1="108.70" x2="323.00" y2="102.70" stroke="#c0c2d8" stroke-width="2.30"/>
<circle cx="307.40" cy="61.00" r="2.10" fill="#d4d4d4" stroke="#6e6e6e" stroke-width="1.50"/>
<circle cx="334.30" cy="50.40" r="2.10" fill="#d4d4d4" stroke="#6e6e6e" stroke-width="1.50"/>
<circle cx="339.50" cy="81.10" r="2.10" fill="#d4d4d4" stroke="#6e6e6e" stroke-width="1.50"/>
<circle cx="323.00" cy="102.70" r="2.10" fill="#d4d4d4" stroke="#6e6e6e" stroke-width="1.50"/>
<line x1="311.30" y1="47.40" x2="296.20" y2="35.70" stroke="#aeb1d0" stroke-width="2.70"/><line x1="311.30" y1="47.40" x2="296.20" y2="35.70" stroke="#babdda" stroke-width="1.08"/>
<line x1="311.30" y1="47.40" x2="289.60" y2="43.70" stroke="#aeb1d0" stroke-width="2.70"/><line x1="311.30" y1="47.40" x2="289.60" y2="43.70" stroke="#babdda" stroke-width="1.08"/>
<line x1="311.30" y1="47.40" x2="314.30" y2="31.10" stroke="#aeb1d0" stroke-width="2.70"/><line x1="311.30" y1="47.40" x2="314.30" y2="31.10" stroke="#babdda" stroke-width="1.08"/>
<line x1="311.30" y1="47.40" x2="323.30" y2="28.80" stroke="#aeb1d0" stroke-width="2.70"/><line x1="311.30" y1="47.40" x2="323.30" y2="28.80" stroke="#babdda" stroke-width="1.08"/>
<line x1="311.30" y1="47.40" x2="315.90" y2="55.00" stroke="#aeb1d0" stroke-width="2.70"/><line x1="311.30" y1="47.40" x2="315.90" y2="55.00" stroke="#babdda" stroke-width="1.08"/>
<line x1="311.30" y1="47.40" x2="289.60" y2="66.00" stroke="#aeb1d0" stroke-width="2.70"/><line x1="311.30" y1="47.40" x2="289.60" y2="66.00" stroke="#babdda" stroke-width="1.08"/>
<line x1="337.50" y1="69.60" x2="342.90" y2="48.10" stroke="#aeb1d0" stroke-width="2.70"/><line x1="337.50" y1="69.60" x2="342.90" y2="48.10" stroke="#babdda" stroke-width="1.08"/>
<line x1="337.50" y1="69.60" x2="361.20" y2="65.60" stroke="#aeb1d0" stroke-width="2.70"/><line x1="337.50" y1="69.60" x2="361.20" y2="65.60" stroke="#babdda" stroke-width="1.08"/>
<line x1="337.50" y1="69.60" x2="316.60" y2="71.60" stroke="#aeb1d0" stroke-width="2.70"/><line x1="337.50" y1="69.60" x2="316.60" y2="71.60" stroke="#babdda" stroke-width="1.08"/>
<line x1="337.50" y1="69.60" x2="315.90" y2="55.00" stroke="#aeb1d0" stroke-width="2.70"/><line x1="337.50" y1="69.60" x2="315.90" y2="55.00" stroke="#babdda" stroke-width="1.08"/>
<line x1="337.50" y1="69.60" x2="322.30" y2="86.20" stroke="#aeb1d0" stroke-width="2.70"/><line x1="337.50" y1="69.60" x2="322.30" y2="86.20" stroke="#babdda" stroke-width="1.08"/>
<line x1="337.50" y1="69.60" x2="350.30" y2="91.90" stroke="#aeb1d0" stroke-width="2.70"/><line x1="337.50" y1="69.60" x2="350.30" y2="91.90" stroke="#babdda" stroke-width="1.08"/>
<line x1="302.20" y1="87.10" x2="298.60" y2="75.90" stroke="#aeb1d0" stroke-width="2.70"/><line x1="302.20" y1="87.10" x2="298.60" y2="75.90" stroke="#babdda" stroke-width="1.08"/>
<line x1="302.20" y1="87.10" x2="316.60" y2="71.60" stroke="#aeb1d0" stroke-width="2.70"/><line x1="302.20" y1="87.10" x2="316.60" y2="71.60" stroke="#babdda" stroke-width="1.08"/>
<line x1="302.20" y1="87.10" x2="278.50" y2="91.70" stroke="#aeb1d0" stroke-width="2.70"/><line x1="302.20" y1="87.10" x2="278.50" y2="91.70" stroke="#babdda" stroke-width="1.08"/>
<line x1="302.20" y1="87.10" x2="322.30" y2="86.20" stroke="#aeb1d0" stroke-width="2.70"/><line x1="302.20" y1="87.10" x2="322.30" y2="86.20" stroke="#babdda" stroke-width="1.08"/>
<line x1="302.20" y1="87.10" x2="296.00" y2="109.60" stroke="#aeb1d0" stroke-width="2.70"/><line x1="302.20" y1="87.10" x2="296.00" y2="109.60" stroke="#babdda" stroke-width="1.08"/>
<line x1="302.20" y1="87.10" x2="305.00" y2="106.60" stroke="#aeb1d0" stroke-width="2.70"/><line x1="302.20" y1="87.10" x2="305.00" y2="106.60" stroke="#babdda" stroke-width="1.08"/>
<line x1="302.20" y1="87.10" x2="289.60" y2="66.00" stroke="#aeb1d0" stroke-width="2.70"/><line x1="302.20" y1="87.10" x2="289.60" y2="66.00" stroke="#babdda" stroke-width="1.08"/>
<line x1="328.30" y1="108.70" x2="331.90" y2="96.30" stroke="#aeb1d0" stroke-width="2.70"/><line x1="328.30" y1="108.70" x2="331.90" y2="96.30" stroke="#babdda" stroke-width="1.08"/>
<line x1="328.30" y1="108.70" x2="349.70" y2="114.00" stroke="#aeb1d0" stroke-width="2.70"/><line x1="328.30" y1="108.70" x2="349.70" y2="114.00" stroke="#babdda" stroke-width="1.08"/>
<line x1="328.30" y1="108.70" x2="343.30" y2="122.20" stroke="#aeb1d0" stroke-width="2.70"/><line x1="328.30" y1="108.70" x2="343.30" y2="122.20" stroke="#babdda" stroke-width="1.08"/>
<line x1="328.30" y1="108.70" x2="324.80" y2="126.00" stroke="#aeb1d0" stroke-width="2.70"/><line x1="328.30" y1="108.70" x2="324.80" y2="126.00" stroke="#babdda" stroke-width="1.08"/>
<line x1="328.30" y1="108.70" x2="315.90" y2="128.90" stroke="#aeb1d0" stroke-width="2.70"/><line x1="328.30" y1="108.70" x2="315.90" y2="128.90" stroke="#babdda" stroke-width="1.08"/>
<line x1="328.30" y1="108.70" x2="350.30" y2="91.90" stroke="#aeb1d0" stroke-width="2.70"/><line x1="328.30" y1="108.70" x2="350.30" y2="91.90" stroke="#babdda" stroke-width="1.08"/>
<line x1="328.30" y1="108.70" x2="305.00" y2="106.60" stroke="#aeb1d0" stroke-width="2.70"/><line x1="328.30" y1="108.70" x2="305.00" y2="106.60" stroke="#babdda" stroke-width="1.08"/>
<line x1="311.30" y1="56.60" x2="311.30" y2="40.80" stroke="#6a6a6a" stroke-width="2.00"/>
<path d="M311.30,38.20 L313.60,41.60 L309.00,41.60 Z" fill="#2a2a2a" stroke="#fff" stroke-width="0.35"/>
<circle cx="311.30" cy="47.40" r="5.40" fill="url(#gR2)"/>
<line x1="337.50" y1="60.40" x2="337.50" y2="76.20" stroke="#6a6a6a" stroke-width="2.00"/>
<path d="M337.50,78.80 L339.80,75.40 L335.20,75.40 Z" fill="#2a2a2a" stroke="#fff" stroke-width="0.35"/>
<circle cx="337.50" cy="69.60" r="5.40" fill="url(#gB2)"/>
<line x1="302.20" y1="77.90" x2="302.20" y2="93.70" stroke="#6a6a6a" stroke-width="2.00"/>
<path d="M302.20,96.30 L304.50,92.90 L299.90,92.90 Z" fill="#2a2a2a" stroke="#fff" stroke-width="0.35"/>
<circle cx="302.20" cy="87.10" r="5.40" fill="url(#gB2)"/>
<line x1="328.30" y1="117.90" x2="328.30" y2="102.10" stroke="#6a6a6a" stroke-width="2.00"/>
<path d="M328.30,99.50 L330.60,102.90 L326.00,102.90 Z" fill="#2a2a2a" stroke="#fff" stroke-width="0.35"/>
<circle cx="328.30" cy="108.70" r="5.40" fill="url(#gR2)"/>
<circle cx="296.20" cy="35.70" r="2.35" fill="#e2e2e2" stroke="#050505" stroke-width="1.70"/>
<circle cx="289.60" cy="43.70" r="2.35" fill="#e2e2e2" stroke="#050505" stroke-width="1.70"/>
<circle cx="314.30" cy="31.10" r="2.35" fill="#e2e2e2" stroke="#050505" stroke-width="1.70"/>
<circle cx="323.30" cy="28.80" r="2.35" fill="#e2e2e2" stroke="#050505" stroke-width="1.70"/>
<circle cx="315.90" cy="55.00" r="2.35" fill="#e2e2e2" stroke="#050505" stroke-width="1.70"/>
<circle cx="289.60" cy="66.00" r="2.35" fill="#e2e2e2" stroke="#050505" stroke-width="1.70"/>
<circle cx="316.60" cy="71.60" r="2.35" fill="#e2e2e2" stroke="#050505" stroke-width="1.70"/>
<circle cx="298.60" cy="75.90" r="2.35" fill="#e2e2e2" stroke="#050505" stroke-width="1.70"/>
<circle cx="342.90" cy="48.10" r="2.35" fill="#e2e2e2" stroke="#050505" stroke-width="1.70"/>
<circle cx="361.20" cy="65.60" r="2.35" fill="#e2e2e2" stroke="#050505" stroke-width="1.70"/>
<circle cx="278.50" cy="91.70" r="2.35" fill="#e2e2e2" stroke="#050505" stroke-width="1.70"/>
<circle cx="322.30" cy="86.20" r="2.35" fill="#e2e2e2" stroke="#050505" stroke-width="1.70"/>
<circle cx="350.30" cy="91.90" r="2.35" fill="#e2e2e2" stroke="#050505" stroke-width="1.70"/>
<circle cx="331.90" cy="96.30" r="2.35" fill="#e2e2e2" stroke="#050505" stroke-width="1.70"/>
<circle cx="296.00" cy="109.60" r="2.35" fill="#e2e2e2" stroke="#050505" stroke-width="1.70"/>
<circle cx="305.00" cy="106.60" r="2.35" fill="#e2e2e2" stroke="#050505" stroke-width="1.70"/>
<circle cx="315.90" cy="128.90" r="2.35" fill="#e2e2e2" stroke="#050505" stroke-width="1.70"/>
<circle cx="324.80" cy="126.00" r="2.35" fill="#e2e2e2" stroke="#050505" stroke-width="1.70"/>
<circle cx="349.70" cy="114.00" r="2.35" fill="#e2e2e2" stroke="#050505" stroke-width="1.70"/>
<circle cx="343.30" cy="122.20" r="2.35" fill="#e2e2e2" stroke="#050505" stroke-width="1.70"/>
<circle cx="342.90" cy="70.20" r="2.35" fill="#e2e2e2" stroke="#050505" stroke-width="1.70"/>
<rect x="284.2" y="40.8" width="70.6" height="75" stroke="#cfcfcf" stroke-width="0.7" fill="none"/>
<text x="74.0" y="7.8" class="hb" font-size="10.6" style="stroke:#111;stroke-width:0.25px">MnF<tspan font-size="7.4" dy="2.9" dx="0.6">2</tspan></text>
<text x="116.4" y="17.9" class="hb" font-size="11">SrI<tspan font-size="7.5" dy="2.8">2</tspan><tspan dy="-2.8">-type</tspan></text>
<text x="258.6" y="17.9" class="hb" font-size="11">&#945;-PbCl<tspan font-size="7.5" dy="2.8">2</tspan><tspan dy="-2.8">-type</tspan></text>
<ellipse cx="79" cy="39.6" rx="5.3" ry="4.7" fill="url(#gR)"/>
<ellipse cx="79.2" cy="55" rx="5.5" ry="4.8" fill="url(#gB)"/>
<circle cx="79" cy="68.3" r="2.1" fill="#e8e8e8" stroke="#111" stroke-width="1.4"/>
<text x="87.4" y="43.8" class="lg">Mn</text>
<text x="87.9" y="58.6" class="lg">Mn</text>
<text x="91.6" y="70.4" class="lg">F</text>
<path d="M105.5,35.2 L107.6,39.3 L106.75,39.3 L106.75,44.6 L104.25,44.6 L104.25,39.3 L103.4,39.3 Z" fill="#e8101a"/>
<path d="M105.35,59.0 L107.45,54.9 L106.6,54.9 L106.6,49.8 L104.1,49.8 L104.1,54.9 L103.25,54.9 Z" fill="#1838e8"/>
<line x1="101.8" y1="120.5" x2="101.8" y2="104" stroke="#10c010" stroke-width="1.8"/>
<path d="M101.8,98.3 L104.2,104.8 L99.4,104.8 Z" fill="#10c010"/>
<line x1="100" y1="120.8" x2="84" y2="120.8" stroke="#1010d0" stroke-width="1.8"/>
<path d="M78.4,120.8 L84.6,118.4 L84.6,123.2 Z" fill="#1010d0"/>
<circle cx="103.2" cy="120.8" r="1.9" fill="#eee" stroke="#bbb" stroke-width="0.5"/>
<circle cx="100.6" cy="121.8" r="3" fill="url(#gD)"/>
<text x="99.8" y="95.9" class="lb">b</text>
<text x="72.0" y="123.7" class="lb">c</text>
<text x="108.5" y="123.7" class="lb">a</text>
<line x1="250.3" y1="118.5" x2="250.3" y2="104" stroke="#1010d0" stroke-width="1.8"/>
<path d="M250.3,98.3 L252.7,104.8 L247.9,104.8 Z" fill="#1010d0"/>
<line x1="251.5" y1="119.7" x2="265" y2="119.7" stroke="#10c010" stroke-width="1.8"/>
<path d="M270.2,119.7 L264.2,117.3 L264.2,122.1 Z" fill="#10c010"/>
<circle cx="250.5" cy="119.0" r="2.0" fill="#f4f4f4" stroke="#999" stroke-width="0.6"/>
<circle cx="246.4" cy="120.9" r="2.5" fill="url(#gD2)"/>
<text x="247.7" y="96.7" class="lb">c</text>
<text x="234.6" y="123.7" class="lb">a</text>
<text x="271.6" y="123.7" class="lb">b</text>
<text x="177.60" y="34.40" class="cl" font-size="12.00" style="font-style:normal;stroke-width:0.3px">[</text>
<text x="181.40" y="34.20" class="cl" font-size="8.20">C</text>
<text x="186.50" y="35.75" class="cl" font-size="7.40" style="font-style:normal">2</text>
<text x="190.42" y="33.70" class="cl" font-size="9.80" style="font-style:normal;stroke-width:0.25px">|</text>
<text x="192.42" y="33.70" class="cl" font-size="9.80" style="font-style:normal;stroke-width:0.25px">|</text>
<text x="194.70" y="34.20" class="cl" font-size="8.20">C</text>
<text x="200.60" y="35.75" class="cl" font-size="7.40" style="font-style:normal">2</text>
<text x="204.60" y="36.00" class="cl" font-size="7.40">y</text>
<text x="208.60" y="34.80" class="cl" font-size="11.20">t</text>
<text x="214.30" y="34.40" class="cl" font-size="12.00" style="font-style:normal;stroke-width:0.3px">]</text>
<text x="333.90" y="34.20" class="cl" font-size="12.00" style="font-style:normal;stroke-width:0.3px">[</text>
<text x="336.90" y="32.90" class="cl" font-size="8.20">C</text>
<text x="342.00" y="34.40" class="cl" font-size="7.40" style="font-style:normal">2</text>
<text x="346.42" y="32.40" class="cl" font-size="9.80" style="font-style:normal;stroke-width:0.25px">|</text>
<text x="348.42" y="32.40" class="cl" font-size="9.80" style="font-style:normal;stroke-width:0.25px">|</text>
<text x="350.40" y="32.90" class="cl" font-size="8.20">C</text>
<text x="356.20" y="34.40" class="cl" font-size="7.40" style="font-style:normal">2</text>
<text x="360.00" y="34.40" class="cl" font-size="7.40">z</text>
<text x="363.90" y="33.60" class="cl" font-size="11.20">t</text>
<text x="369.50" y="34.20" class="cl" font-size="12.00" style="font-style:normal;stroke-width:0.3px">]</text>
<g clip-path="url(#clipL)">
<path d="M 124.40,174.60 C 145.77,152.16 167.55,159.98 174.75,158.80" fill="none" stroke="#3c96ec" stroke-width="1.25" stroke-linejoin="round"/>
<path d="M 225.10,174.60 C 201.65,168.39 183.90,158.01 174.75,158.80" fill="none" stroke="#3c96ec" stroke-width="1.25" stroke-linejoin="round"/>
<path d="M 124.40,174.70 C 140.98,189.78 145.70,184.76 174.75,182.40" fill="none" stroke="#3c96ec" stroke-width="1.25" stroke-linejoin="round"/>
<path d="M 225.10,174.70 C 176.78,177.54 194.88,181.97 174.75,182.40" fill="none" stroke="#3c96ec" stroke-width="1.25" stroke-linejoin="round"/>
<path d="M 124.40,212.80 C 135.26,197.75 170.40,199.13 174.75,198.70" fill="none" stroke="#3c96ec" stroke-width="1.25" stroke-linejoin="round"/>
<path d="M 225.10,212.80 L 209.00,213.10 C 194.78,210.54 188.06,199.10 174.75,198.70" fill="none" stroke="#3c96ec" stroke-width="1.25" stroke-linejoin="round"/>
<path d="M 124.40,212.80 C 137.42,227.41 144.15,232.83 157.30,239.40 C 168.83,228.72 172.10,228.16 174.75,229.20" fill="none" stroke="#3c96ec" stroke-width="1.25" stroke-linejoin="round"/>
<path d="M 225.10,212.80 L 209.00,213.10 C 196.23,215.89 179.51,230.43 174.75,229.20" fill="none" stroke="#3c96ec" stroke-width="1.25" stroke-linejoin="round"/>
<path d="M 124.40,174.60 C 147.85,168.39 165.60,158.01 174.75,158.80" fill="none" stroke="#e0283c" stroke-width="1.25" stroke-linejoin="round"/>
<path d="M 225.10,174.60 C 203.73,152.16 181.95,159.98 174.75,158.80" fill="none" stroke="#e0283c" stroke-width="1.25" stroke-linejoin="round"/>
<path d="M 124.40,174.70 C 172.72,177.54 154.62,181.97 174.75,182.40" fill="none" stroke="#e0283c" stroke-width="1.25" stroke-linejoin="round"/>
<path d="M 225.10,174.70 C 208.52,189.78 203.80,184.76 174.75,182.40" fill="none" stroke="#e0283c" stroke-width="1.25" stroke-linejoin="round"/>
<path d="M 124.40,212.80 L 140.50,213.10 C 154.72,210.54 161.44,199.10 174.75,198.70" fill="none" stroke="#e0283c" stroke-width="1.25" stroke-linejoin="round"/>
<path d="M 225.10,212.80 C 214.24,197.75 179.10,199.13 174.75,198.70" fill="none" stroke="#e0283c" stroke-width="1.25" stroke-linejoin="round"/>
<path d="M 124.40,212.80 L 140.50,213.10 C 153.27,215.89 169.99,230.43 174.75,229.20" fill="none" stroke="#e0283c" stroke-width="1.25" stroke-linejoin="round"/>
<path d="M 225.10,212.80 C 212.08,227.41 205.35,232.83 192.20,239.40 C 180.67,228.72 177.40,228.16 174.75,229.20" fill="none" stroke="#e0283c" stroke-width="1.25" stroke-linejoin="round"/>
</g>
<line x1="174.75" y1="137.00" x2="174.75" y2="243.60" stroke="#8a8a8a" stroke-width="1"/>
<rect x="124.25" y="137.00" width="101.15" height="106.60" fill="none" stroke="#7a7a7a" stroke-width="1.2"/>
<line x1="124.25" y1="156.50" x2="125.75" y2="156.50" stroke="#7a7a7a" stroke-width="0.8"/>
<text x="122.65" y="158.90" class="tk" text-anchor="end">-2.0</text>
<line x1="124.25" y1="195.50" x2="125.75" y2="195.50" stroke="#7a7a7a" stroke-width="0.8"/>
<text x="122.65" y="197.90" class="tk" text-anchor="end">-2.2</text>
<line x1="124.25" y1="234.60" x2="125.75" y2="234.60" stroke="#7a7a7a" stroke-width="0.8"/>
<text x="122.65" y="237.00" class="tk" text-anchor="end">-2.4</text>
<text class="ax" transform="translate(108.4,188.6) rotate(-90)" text-anchor="middle">Energy (eV)</text>
<text x="124.25" y="251.3" class="tk" text-anchor="middle">M</text>
<text x="174.75" y="251.3" class="tk" text-anchor="middle">&#915;</text>
<text x="225.40" y="251.3" class="tk" text-anchor="middle">M'</text>
<text x="126.8" y="144.6" class="tk">SrI<tspan font-size="4.3" dy="1.2">2</tspan><tspan dy="-1.2">-type</tspan></text>
<text x="129.4" y="153.1" class="tk">4 GPa</text>
<line x1="179" y1="141.3" x2="193.4" y2="141.3" stroke="#e0283c" stroke-width="1.4"/>
<line x1="179" y1="149.1" x2="193.4" y2="149.1" stroke="#3c96ec" stroke-width="1.4"/>
<text x="194.8" y="144.2" class="tk" style="fill:#e0283c">Spin up</text>
<text x="194.8" y="151.9" class="tk" style="fill:#3c96ec">Spin down</text>
<g clip-path="url(#clipR)">
<path d="M 266.40,195.40 C 273.33,191.82 293.86,155.18 318.15,156.30" fill="none" stroke="#3c96ec" stroke-width="1.25" stroke-linejoin="round"/>
<path d="M 369.10,195.70 C 362.17,192.12 341.64,155.48 318.15,156.60" fill="none" stroke="#3c96ec" stroke-width="1.25" stroke-linejoin="round"/>
<path d="M 267.20,202.60 C 284.15,222.04 290.62,236.67 318.15,235.40" fill="none" stroke="#3c96ec" stroke-width="1.25" stroke-linejoin="round"/>
<path d="M 369.10,202.10 C 353.18,219.52 344.08,234.99 318.15,235.40" fill="none" stroke="#3c96ec" stroke-width="1.25" stroke-linejoin="round"/>
<path d="M 267.20,207.90 C 295.84,220.47 296.17,206.41 318.15,206.50" fill="none" stroke="#3c96ec" stroke-width="1.25" stroke-linejoin="round"/>
<path d="M 369.10,207.90 C 347.45,199.93 329.21,206.12 318.15,206.50" fill="none" stroke="#3c96ec" stroke-width="1.25" stroke-linejoin="round"/>
<path d="M 267.20,195.70 C 274.13,192.12 294.66,155.48 318.15,156.60" fill="none" stroke="#e0283c" stroke-width="1.25" stroke-linejoin="round"/>
<path d="M 369.90,195.40 C 362.97,191.82 342.44,155.18 318.15,156.30" fill="none" stroke="#e0283c" stroke-width="1.25" stroke-linejoin="round"/>
<path d="M 267.20,202.10 C 283.12,219.52 292.22,234.99 318.15,235.40" fill="none" stroke="#e0283c" stroke-width="1.25" stroke-linejoin="round"/>
<path d="M 369.10,202.60 C 352.15,222.04 345.68,236.67 318.15,235.40" fill="none" stroke="#e0283c" stroke-width="1.25" stroke-linejoin="round"/>
<path d="M 267.20,207.90 C 288.85,199.93 307.09,206.12 318.15,206.50" fill="none" stroke="#e0283c" stroke-width="1.25" stroke-linejoin="round"/>
<path d="M 369.10,207.90 C 340.46,220.47 340.13,206.41 318.15,206.50" fill="none" stroke="#e0283c" stroke-width="1.25" stroke-linejoin="round"/>
</g>
<line x1="318.15" y1="137.00" x2="318.15" y2="243.60" stroke="#8a8a8a" stroke-width="1"/>
<rect x="267.20" y="137.00" width="101.90" height="106.60" fill="none" stroke="#7a7a7a" stroke-width="1.2"/>
<line x1="267.20" y1="166.00" x2="268.70" y2="166.00" stroke="#7a7a7a" stroke-width="0.8"/>
<text x="265.60" y="168.40" class="tk" text-anchor="end">-2.4</text>
<line x1="267.20" y1="197.60" x2="268.70" y2="197.60" stroke="#7a7a7a" stroke-width="0.8"/>
<text x="265.60" y="200.00" class="tk" text-anchor="end">-2.6</text>
<line x1="267.20" y1="229.00" x2="268.70" y2="229.00" stroke="#7a7a7a" stroke-width="0.8"/>
<text x="265.60" y="231.40" class="tk" text-anchor="end">-2.8</text>
<text class="ax" transform="translate(251.1,189.4) rotate(-90)" text-anchor="middle">Energy (eV)</text>
<text x="267.20" y="251.3" class="tk" text-anchor="middle">M</text>
<text x="318.15" y="251.3" class="tk" text-anchor="middle">&#915;</text>
<text x="369.10" y="251.3" class="tk" text-anchor="middle">M'</text>
<text x="269" y="144.6" class="tk">&#945;-PbCl<tspan font-size="4.3" dy="1.2">2</tspan><tspan dy="-1.2">-type</tspan></text>
<text x="275.0" y="153.1" class="tk" textLength="19.6" lengthAdjust="spacingAndGlyphs">13 GPa</text>
<line x1="322" y1="141.3" x2="337.2" y2="141.3" stroke="#e0283c" stroke-width="1.4"/>
<line x1="322" y1="149.1" x2="337.2" y2="149.1" stroke="#3c96ec" stroke-width="1.4"/>
<text x="338.6" y="144.2" class="tk" style="fill:#e0283c">Spin up</text>
<text x="338.6" y="151.9" class="tk" style="fill:#3c96ec">Spin down</text>
</svg>
</body></html>
